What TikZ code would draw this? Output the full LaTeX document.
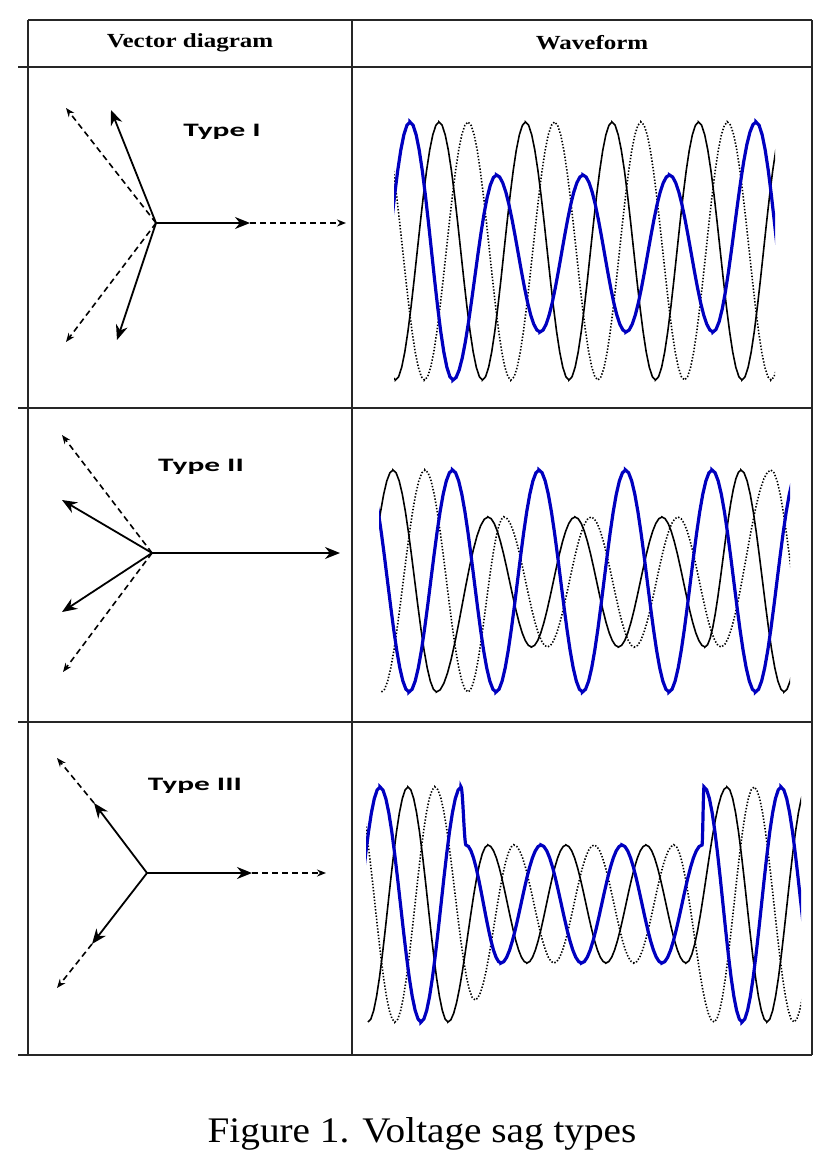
\documentclass[tikz,border=0pt]{standalone}
\usepackage{fontspec}
\setmainfont{Liberation Serif}
\newfontfamily\typefont{Carlito}
\usetikzlibrary{arrows.meta}
\newcommand\wv[4]{\draw[#1] (#2,#3) \foreach \xb/\yb [remember=\xb as \xa (initially #2), remember=\yb as \ya (initially #3)] in {#4} {-- plot[domain=0:180,samples=15] ({\xa+(\xb-\xa)*\x/180},{(\ya+\yb)/2+(\ya-\yb)/2*cos(\x)})};}
\tikzset{
 grid/.style={line width=1.8pt,black!85},
 bw/.style={blue!75!black,line width=3.2pt},
 kw/.style={black,line width=1.6pt},
 dw/.style={black,line width=1.6pt,dash pattern=on 1.4pt off 1.8pt},
 vs/.style={line width=1.8pt,-{Stealth[length=15pt,width=12pt]}},
 vd/.style={line width=1.6pt,dash pattern=on 6pt off 4pt,-{Stealth[length=9pt,width=7pt]}},
 hd/.style={font=\bfseries\fontsize{20}{22}\selectfont,xscale=1.25},
 tl/.style={font=\typefont\bfseries\fontsize{19}{21}\selectfont,xscale=1.65},
}
\begin{document}
\begin{tikzpicture}[x=1pt,y=-1pt]
\useasboundingbox (0,0) rectangle (828,1159);
% table
\draw[grid] (28,20) -- (812,20);
\foreach \yy in {67,408,722,1055} \draw[grid] (18,\yy) -- (812,\yy);
\draw[grid] (28,20) -- (28,1055);
\draw[grid] (352,20) -- (352,1055);
\draw[grid] (812,20) -- (812,1055);
\node[hd] (h1) at (190,43) {Vector diagram};
\node[hd] (h2) at (592,43) {Waveform};
% Type I vectors
\coordinate (c1) at (156,223);
\coordinate (c1h) at (250,223); \coordinate (c1hd) at (346,223);
\coordinate (c1u) at (111,110); \coordinate (c1ud) at (66,108);
\coordinate (c1d) at (117,340); \coordinate (c1dd) at (66,342);
\draw[vd] (c1) -- (c1ud); \draw[vd] (c1) -- (c1dd); \draw[vd] (c1h) -- (c1hd);
\draw[vs] (c1) -- (c1u); \draw[vs] (c1) -- (c1d); \draw[vs] (c1) -- (c1h);
\node[tl] (t1) at (222,132) {Type I};
% Type II vectors
\coordinate (c2) at (152,553);
\coordinate (c2h) at (340,553);
\coordinate (c2u) at (62,500); \coordinate (c2ud) at (62,435);
\coordinate (c2d) at (62,612); \coordinate (c2dd) at (63,672);
\draw[vd] (c2) -- (c2ud); \draw[vd] (c2) -- (c2dd);
\draw[vs] (c2) -- (c2u); \draw[vs] (c2) -- (c2d); \draw[vs] (c2) -- (c2h);
\node[tl] (t2) at (201,467) {Type II};
% Type III vectors
\coordinate (c3) at (147,873);
\coordinate (c3h) at (252,873); \coordinate (c3hd) at (326,873);
\coordinate (c3u) at (94,803); \coordinate (c3ud) at (57,758);
\coordinate (c3d) at (92,944); \coordinate (c3dd) at (57,988);
\draw[vd] (c3u) -- (c3ud); \draw[vd] (c3d) -- (c3dd); \draw[vd] (c3h) -- (c3hd);
\draw[vs] (c3) -- (c3u); \draw[vs] (c3) -- (c3d); \draw[vs] (c3) -- (c3h);
\node[tl] (t3) at (195,786) {Type III};
% Waveforms Type I
\begin{scope}
\clip (394,100) rectangle (775,400);
\wv{dw}{381}{122}{424.5/380, 468/122, 511/380, 554.5/122, 598/380, 641/122, 684.5/380, 727.5/122, 771/380, 814/122}
\wv{kw}{352.5}{122}{395.5/380, 439/122, 482.5/380, 525.5/122, 569/380, 612/122, 655.5/380, 698.5/122, 742/380, 785/122}
\wv{bw}{367}{380}{410/122, 453/380, 496.5/175, 540/332, 583/175, 626/332, 669.5/175, 713/332, 756/122, 799/380}
\end{scope}
% Type II
\begin{scope}
\clip (379,450) rectangle (790,710);
\wv{dw}{381.5}{692}{425/470, 468/692, 504/517, 547.5/647, 591/517, 634.5/647, 678/517, 721/647, 771/470, 814/692}
\wv{kw}{349.5}{692}{393/470, 436.5/692, 488/517, 531.5/647, 575/517, 618.5/647, 662/517, 705/647, 741/470, 784/692, 827/470}
\wv{bw}{366}{470}{409/692, 452.5/470, 496/692, 539/470, 582.5/692, 625.5/470, 669/692, 712/470, 755.5/692, 798.5/470}
\end{scope}
% Type III
\begin{scope}
\clip (366,770) rectangle (801,1040);
\wv{dw}{355}{787}{395/1022, 435/787, 475/1000, 514/845, 554/963, 594/845, 634/963, 674/845, 714/1022, 754/787, 794/1022, 834/787}
\wv{kw}{368}{1022}{408/787, 448/1022, 488/845, 527/963, 566/845, 606/963, 646/845, 686/963, 727/787, 767/1022, 807/787}
\wv{bw}{340}{1022}{380/787, 421/1022, 461/787, 466/845, 501/963, 541/845, 581.5/963, 622/845, 662/963, 702/845, 704/787, 742/1022, 781/787, 821/1022}
\end{scope}
\node[font=\fontsize{36}{40}\selectfont,xscale=1.09] (cap) at (422,1134) {Figure 1. Voltage sag types};
\end{tikzpicture}
\end{document}
